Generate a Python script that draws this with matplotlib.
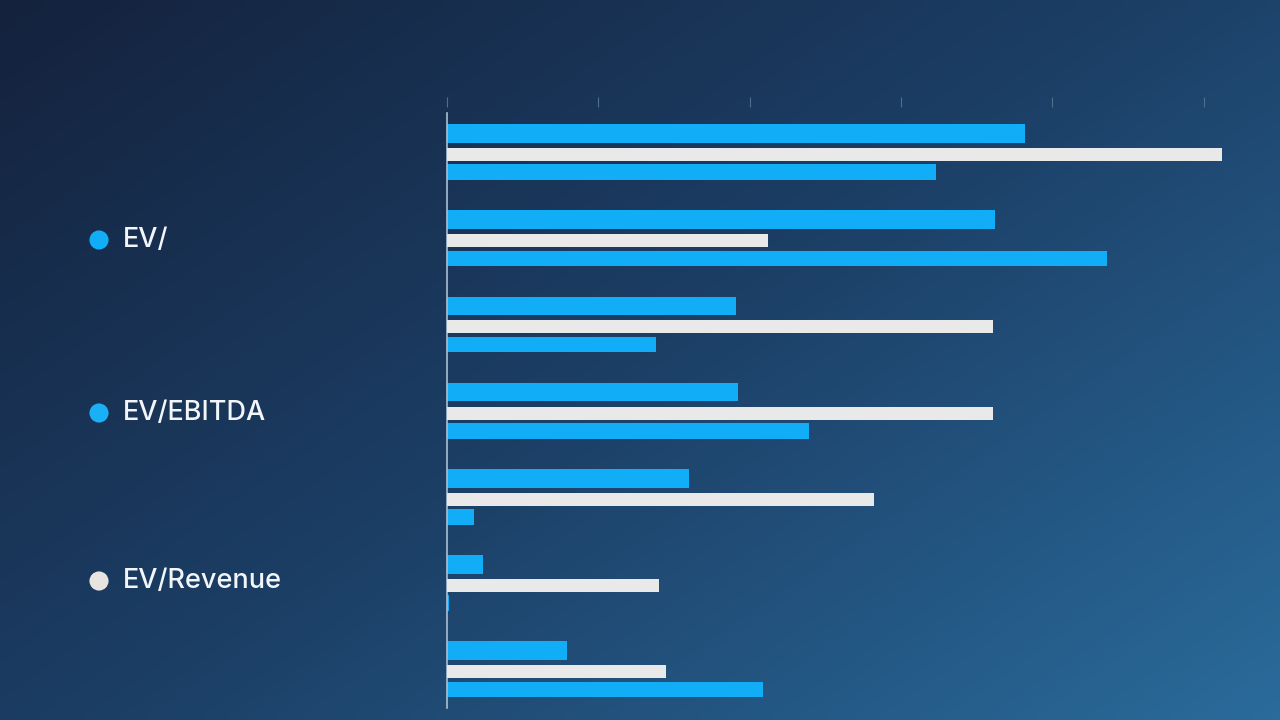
import numpy as np
import matplotlib
matplotlib.use("Agg")
import matplotlib.pyplot as plt
from matplotlib.colors import LinearSegmentedColormap

# ---- data ----
groups = ["G1", "G2", "G3", "G4", "G5", "G6", "G7"]
series_names = ["EV/", "EV/EBITDA", "EV/Revenue"]
ev_vals = [3.82, 3.62, 1.91, 1.92, 1.60, 0.24, 0.79]          # top blue bar
ev_revenue_vals = [5.12, 2.12, 3.61, 3.61, 2.82, 1.40, 1.45]  # middle white bar
ev_ebitda_vals = [3.23, 4.36, 1.38, 2.39, 0.18, 0.01, 2.09]   # bottom blue bar
x_ticks = [0, 1, 2, 3, 4, 5]

BLUE = "#12adf7"
WHITE = "#e9e9e9"

fig = plt.figure(figsize=(12.8, 7.2), dpi=100)

# background gradient
bg = fig.add_axes([0, 0, 1, 1])
bg.set_axis_off()
nx, ny = 256, 144
xx, yy = np.meshgrid(np.linspace(0, 1, nx), np.linspace(0, 1, ny))
t = np.clip(0.55 * xx + 0.45 * yy, 0, 1)
cmap = LinearSegmentedColormap.from_list("bg", ["#14223d", "#1c3f66", "#2a6b9b"])
bg.imshow(t, cmap=cmap, aspect="auto", extent=[0, 1280, 720, 0], interpolation="bicubic")
bg.set_xlim(0, 1280)
bg.set_ylim(720, 0)

# legend on the left
leg_colors = [BLUE, "#1ab0f5", "#e8e4e0"]
leg_y = [240, 413, 581]
for name, c, yv in zip(series_names, leg_colors, leg_y):
    bg.scatter([99], [yv], s=190, color=c, zorder=3, edgecolors="none")
    bg.text(123, yv, name, color="#f2f6fa", fontsize=19.5, family=["Inter", "DejaVu Sans"],
            fontweight="medium", va="center", ha="left", zorder=3)

# main bar axes
W, H = 1280.0, 720.0
left_px, right_px, top_px, bot_px = 447, 1234, 97, 708
ax = fig.add_axes([left_px / W, 1 - bot_px / H, (right_px - left_px) / W, (bot_px - top_px) / H])
ax.patch.set_alpha(0)

pos = np.arange(len(groups))
ax.barh(pos - 0.245, ev_vals, height=0.215, color=BLUE, zorder=2)
ax.barh(pos, ev_revenue_vals, height=0.15, color=WHITE, zorder=3)
ax.barh(pos + 0.205, ev_ebitda_vals, height=0.18, color=BLUE, zorder=2)

ax.set_xlim(0, 5.2)
ax.set_ylim(6.42, -0.667)
for s in ["top", "right", "bottom"]:
    ax.spines[s].set_visible(False)
ax.spines["left"].set_color("#a9bfd3")
ax.spines["left"].set_linewidth(1.2)
ax.spines["left"].set_bounds(6.42, -0.48)
ax.set_yticks([])
ax.set_xticks(x_ticks)
ax.tick_params(axis="x", bottom=False, top=True, labelbottom=False, labeltop=False,
               direction="in", length=7, width=0.8, color="#4f6f8e")

fig.savefig("out.png", dpi=100)
